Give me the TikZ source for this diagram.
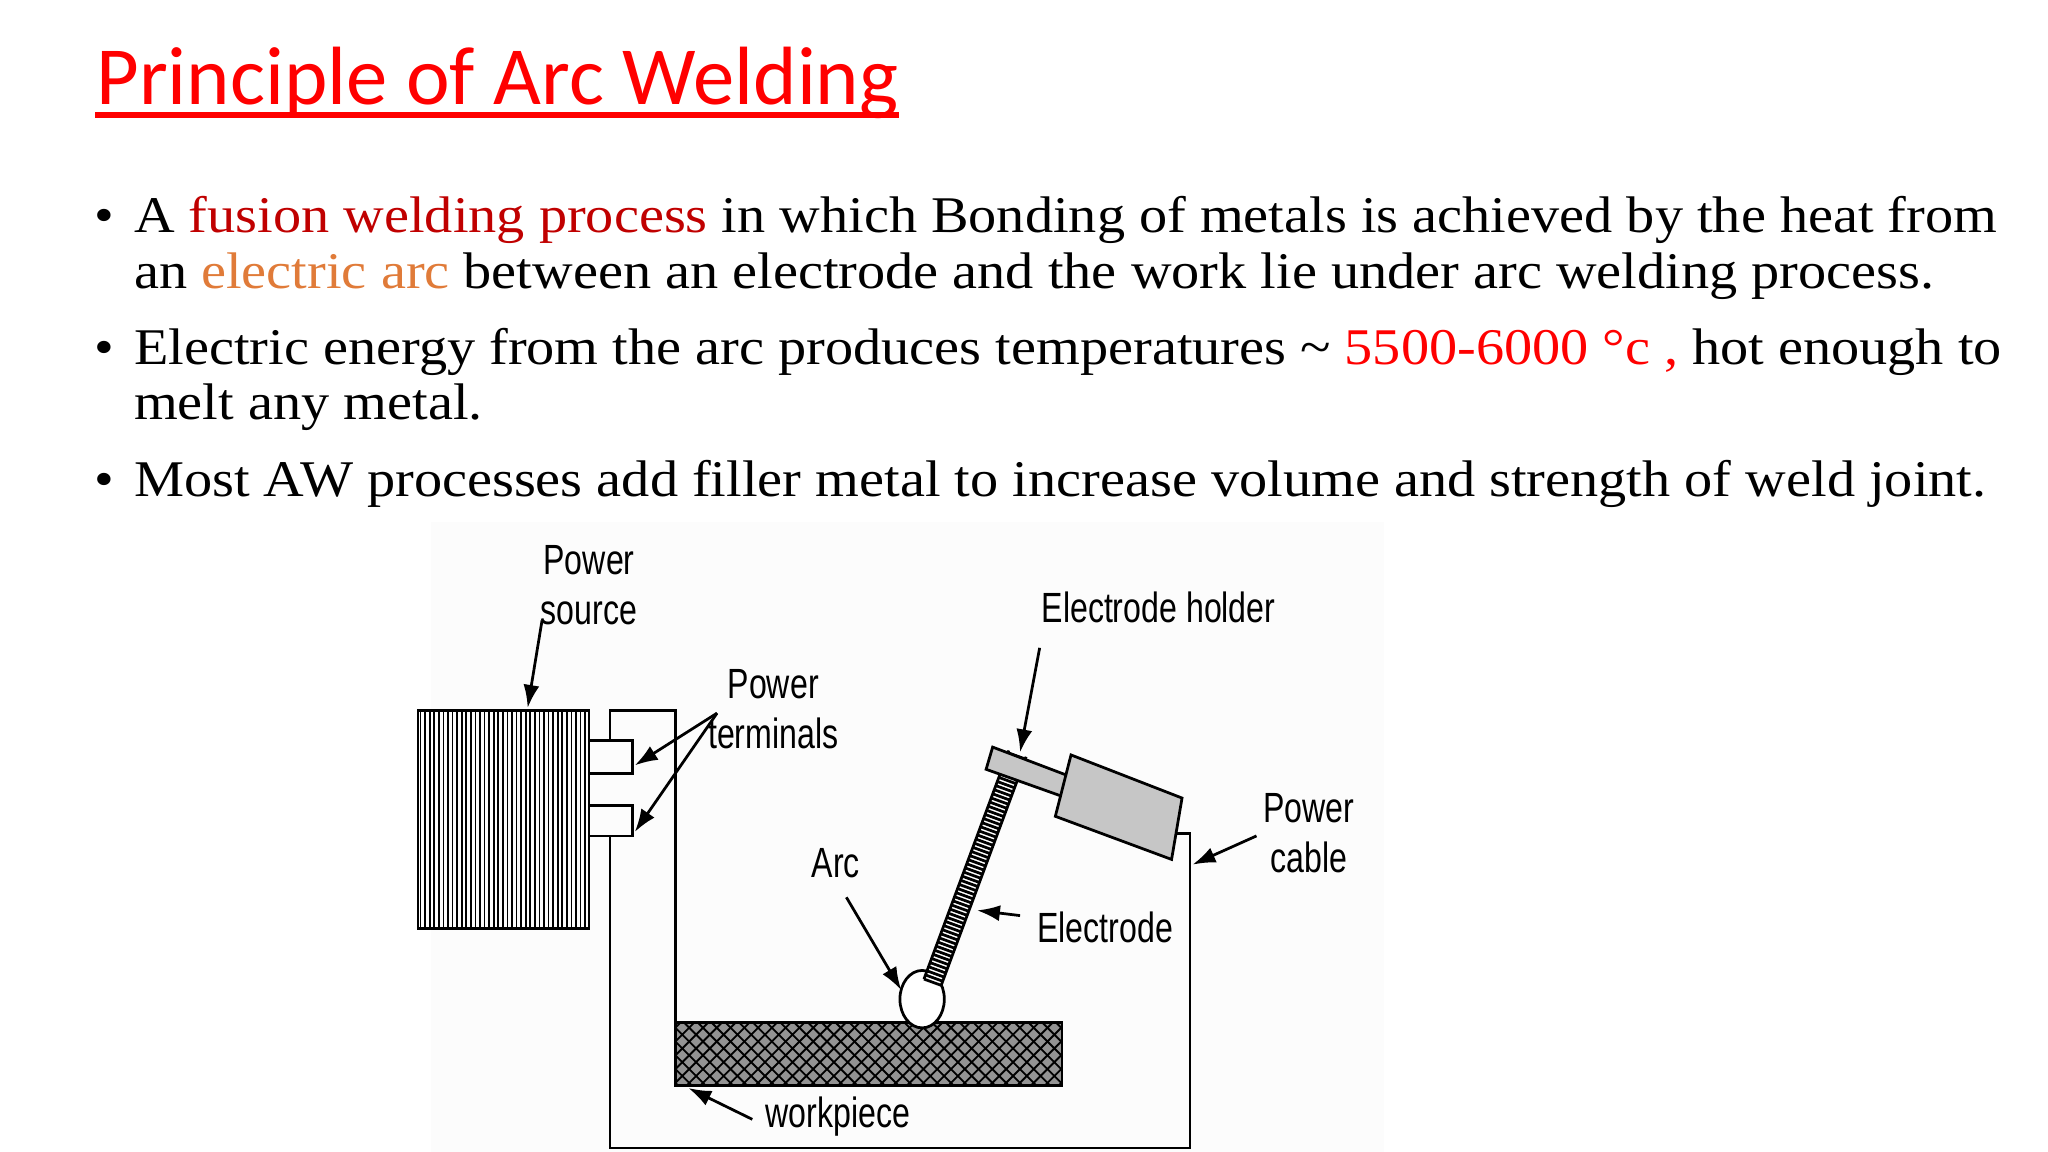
\documentclass[tikz,border=0pt]{standalone}
\usepackage{fontspec}
\setmainfont[FakeStretch=1.094]{Liberation Serif}
\newfontfamily\titlefont{Carlito}
\newfontfamily\labfont[FakeStretch=0.76]{Liberation Sans}
\usetikzlibrary{calc,patterns,arrows.meta}
\definecolor{fusred}{HTML}{C00000}
\definecolor{arcor}{HTML}{E07B39}
\definecolor{tempred}{HTML}{FF0000}
\tikzset{
 line/.style={fill=none, inner sep=0pt, anchor=base west, font=\fontsize{11.2pt}{12pt}\selectfont},
 lab/.style={font=\labfont\fontsize{9.2pt}{11pt}\selectfont, inner sep=1pt, align=center},
 ptr/.style={-{Latex[length=5pt,width=3.5pt]}, line width=0.6pt},
 thin/.style={line width=0.6pt}
}
\begin{document}
\begin{tikzpicture}[x=0.01cm,y=-0.01cm]
\useasboundingbox (0,0) rectangle (1568,882);
\fill[gray!2] (330,400) rectangle (1060,882);
% title
\node[anchor=base west, inner sep=0pt, text=tempred, font=\titlefont\fontsize{18pt}{20pt}\selectfont] (title) at (73,80) {Principle of Arc Welding};
\draw[tempred, line width=1.2pt] (title.base west) ++(0,8) -- ($(title.base east)+(0,8)$);
% bullets
\foreach \y/\n in {178/b1,279/b2,380/b3} \node[line] (\n) at (72,\y) {•};
\node[line] (l1) at (102,178) {A \textcolor{fusred}{fusion welding process} in which Bonding of metals is achieved by the heat from};
\node[line] (l2) at (102,221) {an \textcolor{arcor}{electric arc} between an electrode and the work lie under arc welding process.};
\node[line] (l3) at (102,279) {Electric energy from the arc produces temperatures \textasciitilde{} \textcolor{tempred}{5500-6000 °c ,} hot enough to};
\node[line] (l4) at (102,321) {melt any metal.};
\node[line] (l5) at (102,380) {Most AW processes add filler metal to increase volume and strength of weld joint.};
% power source
\foreach \x in {322,325.5,...,450} \draw[line width=0.35pt] (\x,544) -- (\x,711);
\draw[thin] (320,544) rectangle (451,711);
\coordinate (ps) at (404,542);
% frame
\draw[thin] (467,567) -- (467,544) -- (517,544) -- (517,783);
\draw[thin] (467,640) -- (467,879) -- (911,879) -- (911,638) -- (897,638);
% terminals
\draw[thin] (451,567) rectangle (484,592);
\draw[thin] (451,617) rectangle (484,640);
\coordinate (t1) at (486,586);
\coordinate (t2) at (486,637);
% workpiece
\fill[gray!85] (517,783) rectangle (813,831);
\fill[pattern=crosshatch, pattern color=black] (517,783) rectangle (813,831);
\draw[thin] (517,783) rectangle (813,831);
\coordinate (wp) at (527,833);
% arc
\draw[thin,fill=white] (706,765) ellipse (17 and 22);
\coordinate (arc) at (690,758);
% electrode
\coordinate (e1) at (714,752);
\coordinate (e2) at (779,577);
\fill[white] ($(e1)+(-6.6,-2.4)$) -- ($(e1)+(6.6,2.4)$) -- ($(e2)+(6.6,2.4)$) -- ($(e2)+(-6.6,-2.4)$) -- cycle;
\foreach \t in {0,0.018,...,1} \draw[line width=0.6pt] ($(e1)!\t!(e2)+(-6.6,-2.4)$) -- ($(e1)!\t!(e2)+(6.6,2.4)$);
\draw[thin] ($(e1)+(-6.6,-2.4)$) -- ($(e2)+(-6.6,-2.4)$) ($(e1)+(6.6,2.4)$) -- ($(e2)+(6.6,2.4)$);
\coordinate (el) at (748,697);
% holder
\draw[thin, fill=gray!45] (760,572) -- (818,594) -- (814,610) -- (755,589) -- cycle;
\draw[thin, fill=gray!45] (820,578) -- (905,611) -- (897,658) -- (808,625) -- cycle;
\coordinate (eh) at (781,576);
\coordinate (pc) at (913,662);
% labels
\node[lab] (lps) at (451,448) {Power\\source};
\node[lab] (lpt) at (592,543) {Power\\terminals};
\node[lab] (leh) at (887,465) {Electrode holder};
\node[lab] (lpc) at (1002,638) {Power\\cable};
\node[lab] (larc) at (640,661) {Arc};
\node[lab, anchor=west] (lel) at (790,710) {Electrode};
\node[lab, anchor=west] (lwp) at (582,855) {workpiece};
% pointers
\draw[ptr] (415,475) -- (ps);
\draw[ptr] (549,546) -- (t1);
\draw[ptr] (549,546) -- (t2);
\draw[ptr] (796,496) -- (eh);
\draw[ptr] (962,640) -- (pc);
\draw[ptr] (648,687) -- (arc);
\draw[ptr] (781,701) -- (el);
\draw[ptr] (576,857) -- (wp);
\end{tikzpicture}
\end{document}
